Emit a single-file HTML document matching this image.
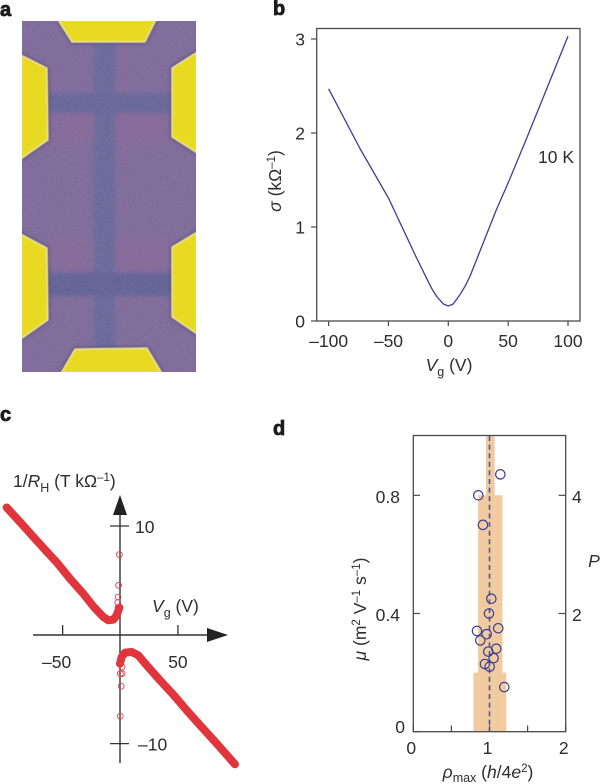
<!DOCTYPE html>
<html lang="en">
<head>
<meta charset="utf-8">
<title>Graphene device and transport panels</title>
<style>
html,body{margin:0;padding:0;background:#fff;width:600px;height:784px;overflow:hidden}
svg{display:block}
text{font-family:"Liberation Sans",sans-serif;fill:#2e2e2e;font-size:17.5px}
.panel{font-weight:bold;font-size:20px;fill:#1c1c1c;stroke:#1c1c1c;stroke-width:.8px}
.i{font-style:italic}
</style>
</head>
<body>
<svg id="fig" width="600" height="784" viewBox="0 0 600 784" xmlns="http://www.w3.org/2000/svg">
<defs>
<filter id="blur3" x="-20%" y="-20%" width="140%" height="140%"><feGaussianBlur stdDeviation="2"/></filter>
<filter id="soft" x="-10%" y="-10%" width="120%" height="120%"><feGaussianBlur stdDeviation="0.6"/></filter>
<filter id="shade" x="-20%" y="-20%" width="140%" height="140%"><feGaussianBlur stdDeviation="1.8"/></filter>
<filter id="grain" x="0" y="0" width="100%" height="100%">
<feTurbulence type="fractalNoise" baseFrequency="0.55" numOctaves="2" seed="4"/>
<feColorMatrix type="matrix" values="0 0 0 0 0.42  0 0 0 0 0.33  0 0 0 0 0.46  0.9 0 0 0 -0.3"/>
</filter>
<clipPath id="photo-clip"><rect x="22" y="21" width="174" height="351"/></clipPath>
</defs>

<text class="panel" x="0" y="16">a</text>
<text class="panel" x="273" y="15">b</text>
<text class="panel" x="0" y="421">c</text>
<text class="panel" x="273" y="435">d</text>

<g id="photo" clip-path="url(#photo-clip)">
  <rect x="22" y="21" width="174" height="351" fill="#806c9c"/>
  <g filter="url(#blur3)">
    <rect x="50" y="114" width="120" height="30" fill="#8c6a98" opacity=".4"/>
    <rect x="50" y="240" width="120" height="30" fill="#8c6a98" opacity=".4"/>
    <rect x="94" y="42" width="21" height="306" fill="#6a6b9b"/>
    <rect x="48" y="93" width="124" height="20" fill="#67689a"/>
    <rect x="48" y="273" width="124" height="23" fill="#636496"/>
  </g>
  <rect x="22" y="21" width="174" height="351" filter="url(#grain)" opacity=".3"/>
  <g fill="none" stroke="#4e4265" stroke-width="3" filter="url(#shade)" opacity=".75">
    <polygon points="58,20 156,20 145,42 72,42"/>
    <polygon points="21,55 47,68 48,140 21,159"/>
    <polygon points="197,52 172,68 172,137 197,153"/>
    <polygon points="21,234 47,248 48,320 21,339"/>
    <polygon points="197,232 172,247 172,317 197,334"/>
    <polygon points="61,373 75,349 147,348 162,373"/>
  </g>
  <g fill="#e8da22" stroke="#f2edb0" stroke-width="1.2" stroke-linejoin="round" filter="url(#soft)">
    <polygon points="58,20 156,20 145,42 72,42"/>
    <polygon points="21,55 47,68 48,140 21,159"/>
    <polygon points="197,52 172,68 172,137 197,153"/>
    <polygon points="21,234 47,248 48,320 21,339"/>
    <polygon points="197,232 172,247 172,317 197,334"/>
    <polygon points="61,373 75,349 147,348 162,373"/>
  </g>
</g>

<g id="chart-b">
  <rect x="316.7" y="28.5" width="263.3" height="292.5" fill="none" stroke="#4a4a4a" stroke-width="1.3"/>
  <text x="538" y="163">10 K</text>
  <text x="449" y="371" text-anchor="middle"><tspan class="i">V</tspan><tspan font-size="12.5" dy="5">g</tspan><tspan dy="-5"> (V)</tspan></text>
  <text transform="translate(281,181) rotate(-90)" text-anchor="middle" font-size="16.5"><tspan class="i">σ</tspan> (kΩ<tspan font-size="11.5" dy="-6">–1</tspan><tspan dy="6">)</tspan></text>
</g>

<g id="chart-c">
  <text x="13" y="487">1/<tspan class="i">R</tspan><tspan font-size="12.5" dy="5">H</tspan><tspan dy="-5"> (T kΩ</tspan><tspan font-size="11.5" dy="-6">–1</tspan><tspan dy="6">)</tspan></text>
  <text x="152" y="612"><tspan class="i">V</tspan><tspan font-size="12.5" dy="5">g</tspan><tspan dy="-5"> (V)</tspan></text>
</g>

<g id="chart-d">
  <text x="488" y="778" text-anchor="middle"><tspan class="i">ρ</tspan><tspan font-size="12.5" dy="4">max</tspan><tspan dy="-4"> (</tspan><tspan class="i">h</tspan>/4<tspan class="i">e</tspan><tspan font-size="11.5" dy="-6">2</tspan><tspan dy="6">)</tspan></text>
  <text transform="translate(366,609) rotate(-90)" text-anchor="middle"><tspan class="i">μ</tspan> (m<tspan font-size="11.5" dy="-6">2</tspan><tspan dy="6"> V</tspan><tspan font-size="11.5" dy="-6">–1</tspan><tspan dy="6"> s</tspan><tspan font-size="11.5" dy="-6">–1</tspan><tspan dy="6">)</tspan></text>
  <text x="594" y="567" class="i" text-anchor="middle">P</text>
</g>

<script>
// Panel b data
const bVg = [-100, -74, -50, -26.5, -18, -14, -9.7, -4, 0, 4, 9.7, 14, 18, 40, 50, 65, 79, 93, 100];
const bSigma = [2.47, 1.84, 1.31, 0.67, 0.45, 0.35, 0.26, 0.18, 0.16, 0.18, 0.28, 0.37, 0.47, 1.18, 1.47, 1.93, 2.37, 2.81, 3.03];
const bXTicks = [-100, -50, 0, 50, 100];
const bYTicks = [0, 1, 2, 3];

// Panel c data
const cLeftVg = [-98.5, -87, -75.4, -63.9, -55.2, -43.6, -32.1, -23.4, -17.6, -14.7, -10.4, -6.1, -3.1, -0.8];
const cLeftVal = [11.7, 10.37, 9.0, 7.67, 6.66, 5.16, 3.78, 2.62, 1.95, 1.64, 1.33, 1.39, 1.79, 2.5];
const cRightVg = [-0.3, 1.2, 4.1, 9.9, 15.6, 22.9, 34.4, 46, 57.6, 69.1, 83.6, 99.5];
const cRightVal = [-2.65, -2.04, -1.64, -1.58, -1.88, -2.8, -4.18, -5.5, -6.94, -8.31, -10.0, -11.9];
const cOpenVg = [-0.8, -1.5, -2, -2.2, -2, 0.8, 1.6, 0, 1.6, 0.8, 0];
const cOpenVal = [7.37, 4.55, 3.47, 2.96, 2.5, -2.41, -2.96, -3.57, -3.57, -4.73, -7.49];
const cXTicks = [-50, 50];
const cYTicks = [-10, 10];

// Panel d data
const dRho = [1.142, 0.853, 0.914, 1.024, 0.993, 0.836, 1.115, 0.962, 0.879, 1.089, 0.984, 1.054, 0.94, 1.002, 1.194];
const dMu = [0.871, 0.8, 0.7, 0.45, 0.4, 0.341, 0.35, 0.33, 0.309, 0.281, 0.271, 0.249, 0.229, 0.22, 0.151];
const histEdges = [0.79, 0.85, 0.954, 1.068, 1.17, 1.22];
const histCounts = [1, 4, 5, 4, 1];
const dXTicks = [0, 0.5, 1, 1.5, 2];
const dXLabels = ['0', '', '1', '', '2'];
const dYTicks = [0, 0.4, 0.8];
const dYLabels = ['0', '0.4', '0.8'];
const dPTicks = [2, 4];
const dMeanRho = [1];

const NS = 'http://www.w3.org/2000/svg';
function mk(parent, tag, attrs, txt) {
  const e = document.createElementNS(NS, tag);
  for (const k in attrs) e.setAttribute(k, attrs[k]);
  if (txt !== undefined) e.textContent = txt;
  parent.appendChild(e);
  return e;
}
function linePoints(xs, ys, fx, fy) {
  return xs.map((v, i) => fx(v).toFixed(1) + ',' + fy(ys[i]).toFixed(1)).join(' ');
}
function fmt(v) { return v < 0 ? '–' + Math.abs(v) : String(v); }
const AX = '#4a4a4a';

// ---------- Panel b ----------
(function () {
  const g = document.getElementById('chart-b');
  const x = v => 448.3 + v * 1.197;
  const y = v => 321 - v * 94;
  bXTicks.forEach(t => {
    const tick = mk(g, 'line', { x1: x(t), x2: x(t), y1: 321, y2: 326, stroke: AX, 'stroke-width': 1.2 });
    
    
    const lab = mk(g, 'text', { x: x(t), y: 347, 'text-anchor': 'middle' }, fmt(t));
    
    
  });
  bYTicks.forEach(t => {
    const tick = mk(g, 'line', { x1: 311, x2: 316.7, y1: y(t), y2: y(t), stroke: AX, 'stroke-width': 1.2 });
    
    
    const lab = mk(g, 'text', { x: 305, y: y(t) + 6.5, 'text-anchor': 'end' }, String(t));
    
    
  });
  const curve = mk(g, 'polyline', { points: linePoints(bVg, bSigma, x, y), fill: 'none', stroke: '#3b3f8f', 'stroke-width': 1.3, 'stroke-linejoin': 'round' });
  
  
})();

// ---------- Panel c ----------
(function () {
  const g = document.getElementById('chart-c');
  const x = v => 120.3 + v * 1.153;
  const y = v => 634.8 - v * 10.88;
  const xAxis = mk(g, 'line', { x1: 33, x2: 215, y1: 635, y2: 635, stroke: '#333', 'stroke-width': 1.4 });
  
  
  const yAxis = mk(g, 'line', { x1: 120, x2: 120, y1: 508, y2: 763, stroke: '#333', 'stroke-width': 1.4 });
  
  
  const xArrow = mk(g, 'polygon', { points: '207,628 228,635 207,642', fill: '#222' });
  
  
  const yArrow = mk(g, 'polygon', { points: '113,515 120,495 127,515', fill: '#222' });
  
  
  cXTicks.forEach(t => {
    const tick = mk(g, 'line', { x1: x(t), x2: x(t), y1: 625, y2: 635, stroke: '#333', 'stroke-width': 1.3 });
    
    
    const lab = mk(g, 'text', { x: x(t) - (t < 0 ? 6 : 0), y: 668, 'text-anchor': 'middle' }, fmt(t));
    
    
  });
  cYTicks.forEach(t => {
    const tick = mk(g, 'line', { x1: 110, x2: 129, y1: y(t), y2: y(t), stroke: '#333', 'stroke-width': 1.3 });
    
    
    const lab = mk(g, 'text', { x: t < 0 ? 138 : 135, y: y(t) + 7 }, fmt(t));
    
    
  });
  const style = { fill: 'none', stroke: '#e0353c', 'stroke-width': 8, 'stroke-linejoin': 'round', 'stroke-linecap': 'round' };
  const left = mk(g, 'polyline', Object.assign({ points: linePoints(cLeftVg, cLeftVal, x, y) }, style));
  
  
  const right = mk(g, 'polyline', Object.assign({ points: linePoints(cRightVg, cRightVal, x, y) }, style));
  
  
  cOpenVg.forEach((v, i) => {
    const c = mk(g, 'circle', { cx: x(v), cy: y(cOpenVal[i]), r: 2.9, fill: 'none', stroke: '#d9434d', 'stroke-width': 0.9 });
    
    
  });
})();

// ---------- Panel d ----------
(function () {
  const g = document.getElementById('chart-d');
  const x = v => 413.3 + v * 76.2;
  const y = v => 731.7 - v * 295.5;
  const yP = p => 731.7 - p * 59.1;
  histCounts.forEach((c, i) => {
    const b = mk(g, 'rect', { x: x(histEdges[i]), width: x(histEdges[i + 1]) - x(histEdges[i]), y: yP(c), height: 731.7 - yP(c), fill: '#f2caa0' });
    
    
  });
  const frame = mk(g, 'rect', { x: 413.3, y: 435.5, width: 152.4, height: 296.2, fill: 'none', stroke: AX, 'stroke-width': 1.3 });
  
  
  dXTicks.forEach((t, i) => {
    const tick = mk(g, 'line', { x1: x(t), x2: x(t), y1: 725.5, y2: 731.7, stroke: AX, 'stroke-width': 1.2 });
    
    
    if (dXLabels[i]) {
      const lab = mk(g, 'text', { x: x(t) - 2, y: 754, 'text-anchor': 'middle' }, dXLabels[i]);
      
      
    }
  });
  dYTicks.forEach((t, i) => {
    const tick = mk(g, 'line', { x1: 413.3, x2: 420, y1: y(t), y2: y(t), stroke: AX, 'stroke-width': 1.2 });
    
    
    const lab = mk(g, 'text', { x: t === 0 ? 405 : 400, y: y(t) + (t === 0 ? 1.5 : 7.5), 'text-anchor': 'end' }, dYLabels[i]);
    
    
  });
  dPTicks.forEach(t => {
    const tick = mk(g, 'line', { x1: 558.5, x2: 565.7, y1: yP(t), y2: yP(t), stroke: AX, 'stroke-width': 1.2 });
    
    
    const lab = mk(g, 'text', { x: 572, y: yP(t) + 7.5 }, String(t));
    
    
  });
  dMeanRho.forEach(v => {
    const m = mk(g, 'line', { x1: x(v), x2: x(v), y1: 436, y2: 731, stroke: '#56558f', 'stroke-width': 1.6, 'stroke-dasharray': '5 3.6' });
    
    
  });
  dRho.forEach((v, i) => {
    const c = mk(g, 'circle', { cx: x(v), cy: y(dMu[i]), r: 4.7, fill: 'none', stroke: '#3a3f92', 'stroke-width': 1.2 });
    
    
  });
})();
</script>
</svg>
</body>
</html>
